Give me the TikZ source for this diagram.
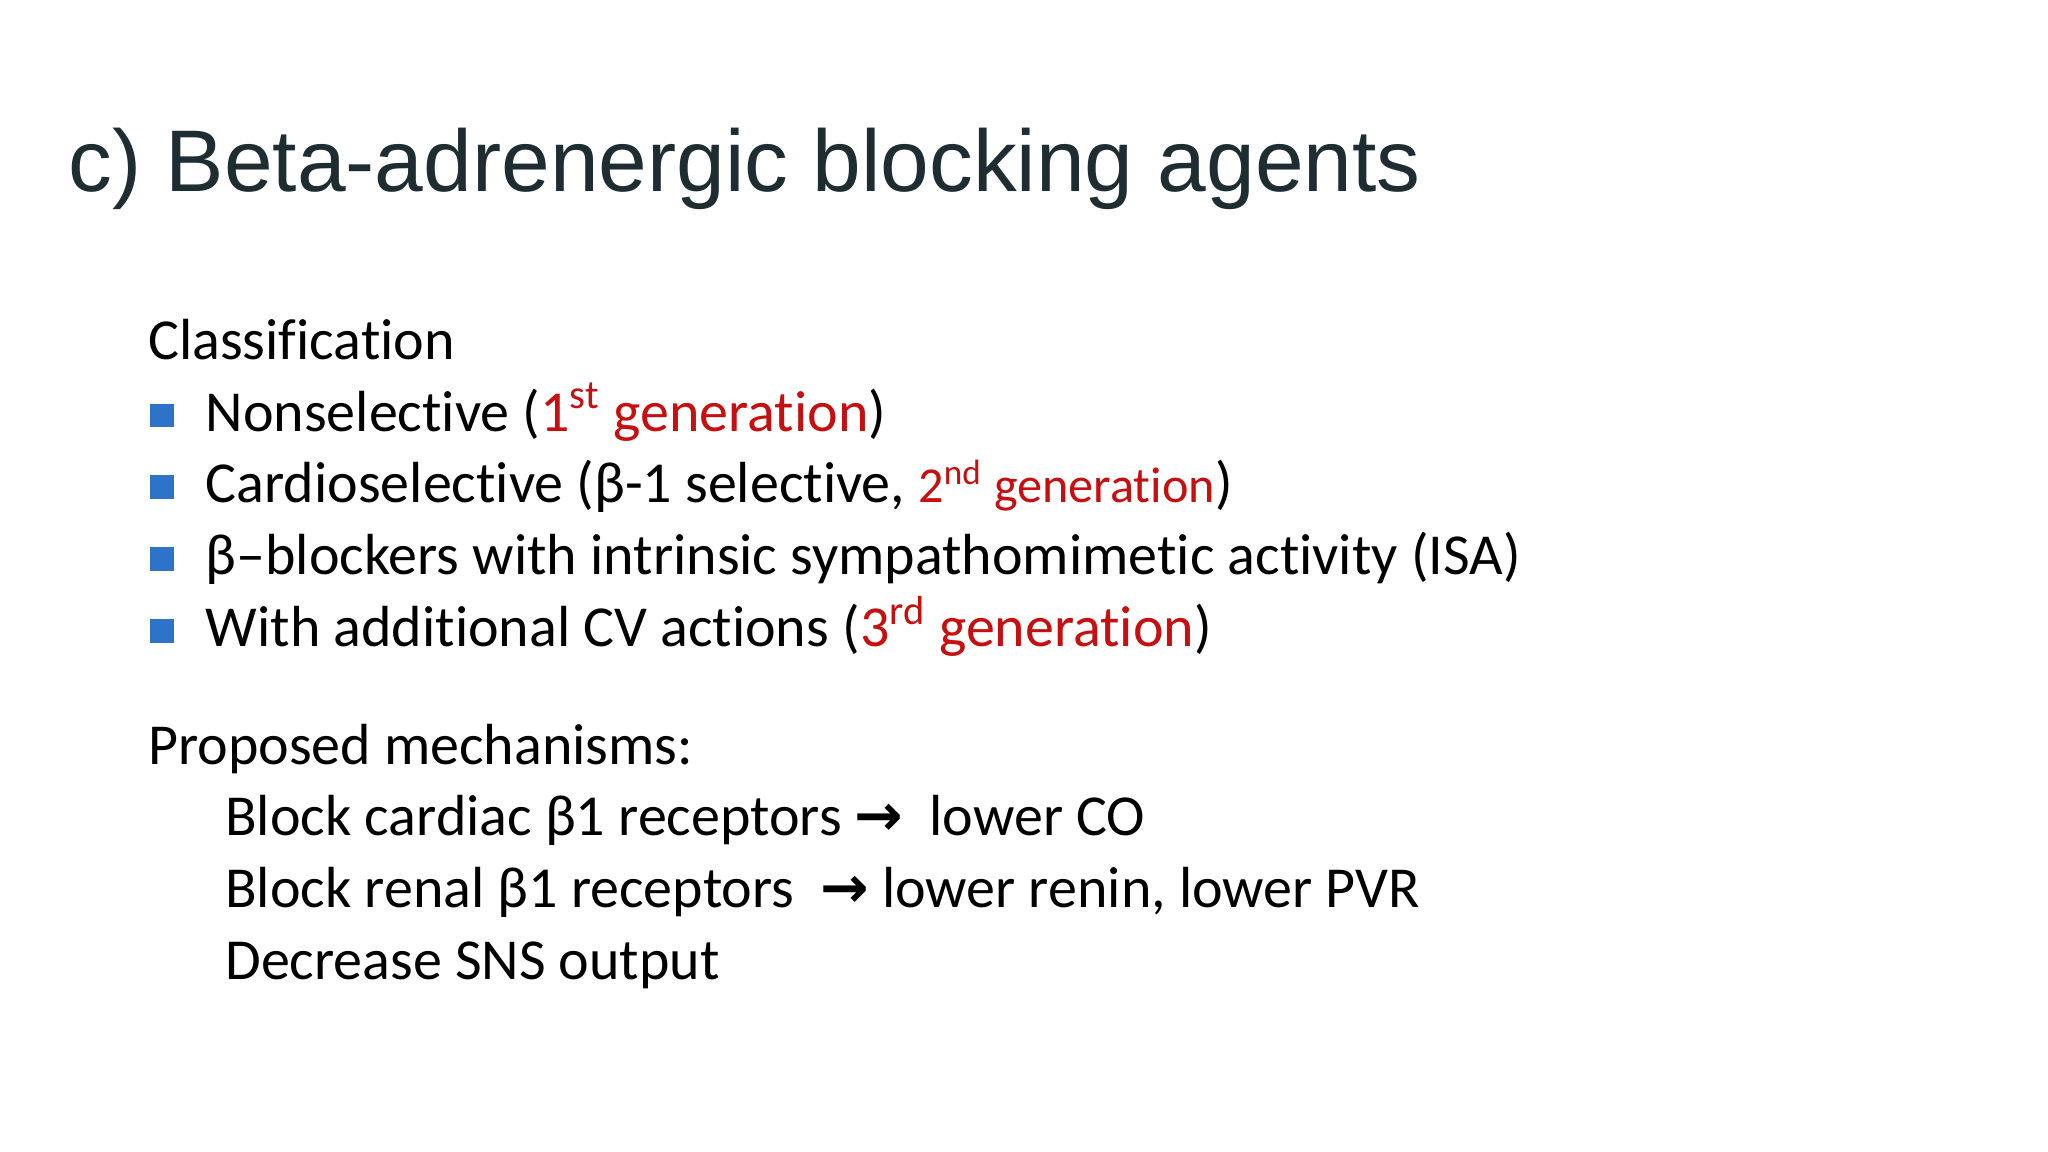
\documentclass[tikz,border=0pt]{standalone}
\usepackage{fontspec}
\setmainfont[Ligatures={NoCommon,NoRequired,NoContextual}]{Carlito}
\newfontfamily\titlefont{Liberation Sans}
\newfontfamily\symfont{DejaVu Sans}
\definecolor{ttl}{RGB}{30,45,50}
\definecolor{red1}{RGB}{200,15,15}
\definecolor{blu}{RGB}{45,115,200}
\tikzset{txt/.style={anchor=base west,inner sep=0pt,font=\fontsize{16.5}{20}\selectfont},
 bul/.style={fill=blu,minimum size=0.235cm,inner sep=0pt}}
\newcommand{\arr}{{\symfont\bfseries →}}
\begin{document}
\begin{tikzpicture}[x=0.01306cm,y=-0.01306cm]
\useasboundingbox (0,0) rectangle (1568,882);
\fill[white] (0,0) rectangle (1568,882);
\node[anchor=base west,inner sep=0pt,text=ttl,font=\titlefont\fontsize{24.9}{30}\selectfont] (title) at (52,147) {c) Beta-adrenergic blocking agents};
\node[txt] (cls) at (113,275) {Classification};
\node[bul] (b1) at (124,318) {};
\node[bul] (b2) at (124,373) {};
\node[bul] (b3) at (124,428) {};
\node[bul] (b4) at (124,483) {};
\node[txt] (l1) at (157,330) {Nonselective (\textcolor{red1}{1\textsuperscript{st} generation})};
\node[txt] (l2) at (157,385) {Cardioselective (β-1 selective, \textcolor{red1}{\fontsize{14.3}{18}\selectfont 2\textsuperscript{nd} generation})};
\node[txt] (l3) at (157,440) {β–blockers with intrinsic sympathomimetic activity (ISA)};
\node[txt] (l4) at (157,495) {With additional CV actions (\textcolor{red1}{3\textsuperscript{rd} generation})};
\node[txt] (pm) at (113,585) {Proposed mechanisms:};
\node[txt] (m1) at (172,640) {Block cardiac β1 receptors \arr\ \ lower CO};
\node[txt] (m2) at (172,695) {Block renal β1 receptors \ \arr\ lower renin, lower PVR};
\node[txt] (m3) at (172,750) {Decrease SNS output};
\end{tikzpicture}
\end{document}
